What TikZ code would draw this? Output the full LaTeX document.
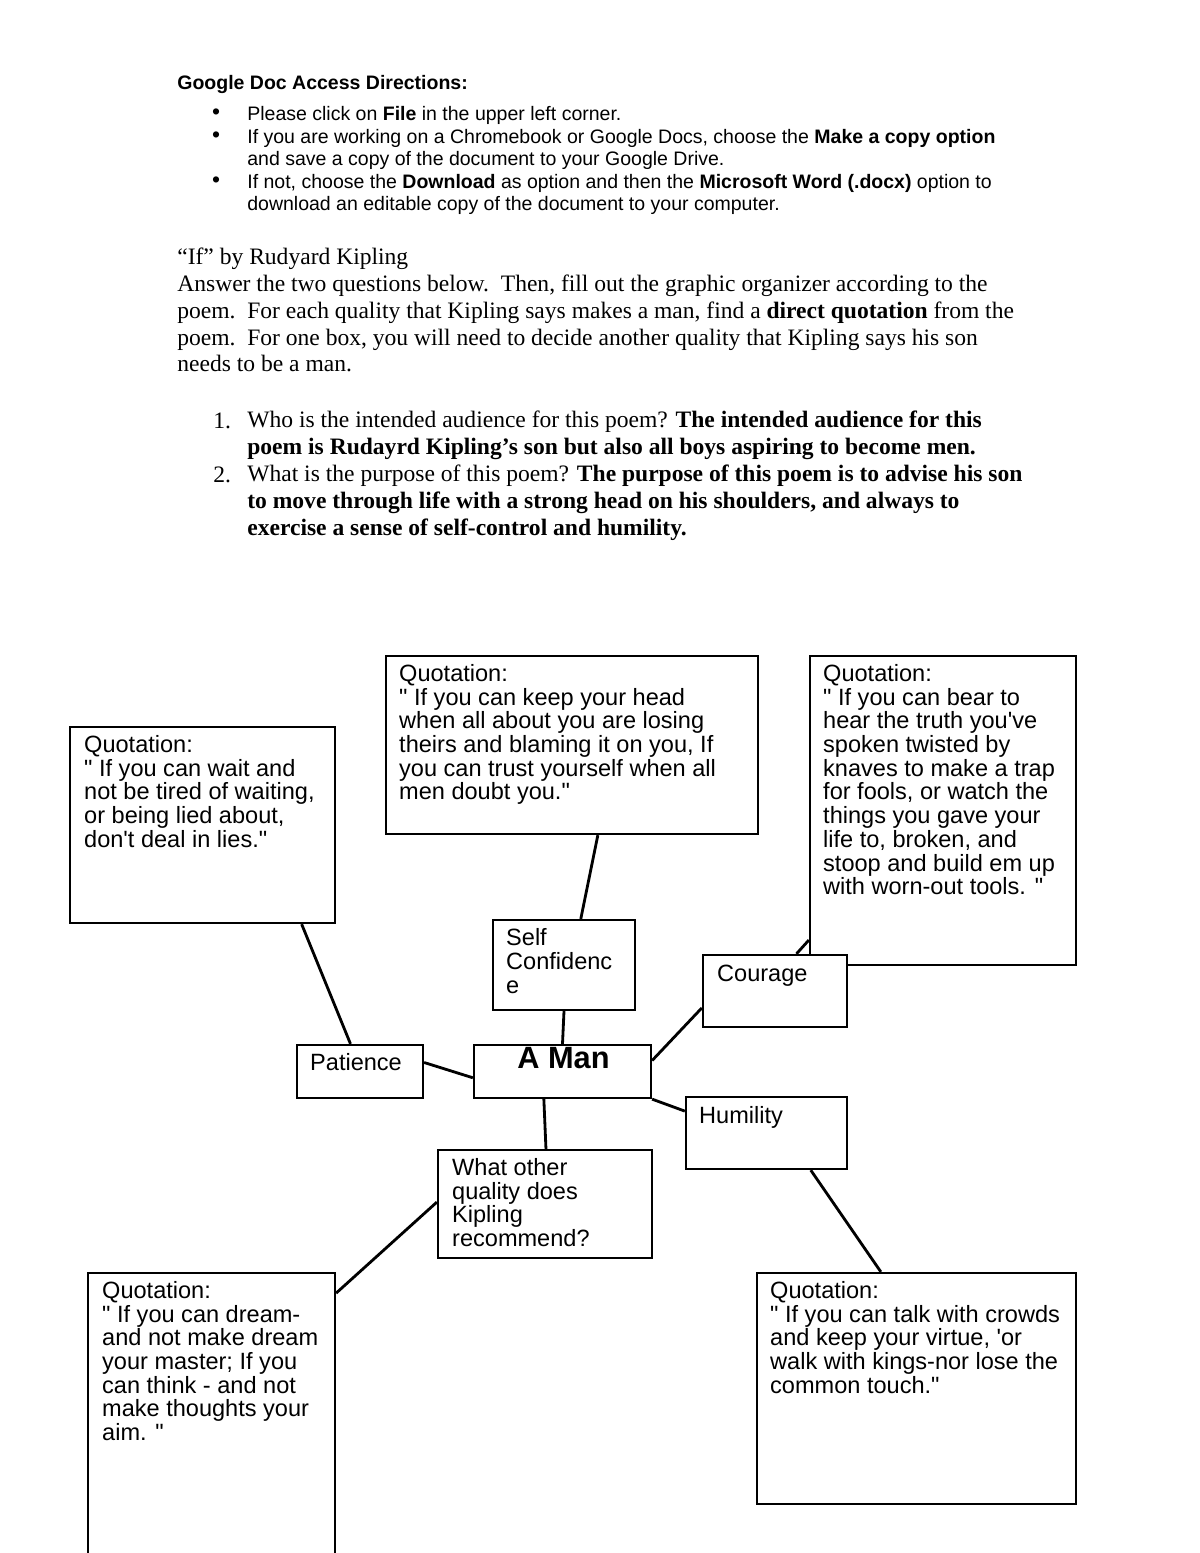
\documentclass[tikz,border=0pt]{standalone}
\usepackage{fontspec}
\setmainfont{Liberation Serif}
\newfontfamily\arialfont{Liberation Sans}
\usetikzlibrary{fit}

\begin{document}
\begin{tikzpicture}[x=0.2mm, y=-0.2mm,
  box/.style={draw, fill=white, line width=1.3pt, inner sep=0pt},
  link/.style={line width=1.6pt},
  boxtext/.style={anchor=north west, inner sep=0pt, align=left,
    font=\arialfont\fontsize{13.4}{13.5}\selectfont},
  sanstext/.style={anchor=north west, inner sep=0pt, align=left,
    font=\arialfont\fontsize{11.1}{12.8}\selectfont},
  dottext/.style={inner sep=0pt, font=\arialfont\fontsize{13}{13}\selectfont},
  serftext/.style={anchor=north west, inner sep=0pt, align=left,
    font=\fontsize{13.4}{15.2}\selectfont}]
  \path[use as bounding box, fill=white] (0,0) rectangle (1200,1553);

  % directions
  \node[sanstext] (head) at (177,75) {\bfseries Google Doc Access Directions:};
  \node[dottext] (dot1) at (216,114) {\textbullet};
  \node[sanstext] (item1) at (247,106) {Please click on \textbf{File} in the upper left corner.};
  \node[dottext] (dot2) at (216,137) {\textbullet};
  \node[sanstext] (item2) at (247,129) {If you are working on a Chromebook or Google Docs, choose the \textbf{Make a copy option}\\
    and save a copy of the document to your Google Drive.};
  \node[dottext] (dot3) at (216,182) {\textbullet};
  \node[sanstext] (item3) at (247,174) {If not, choose the \textbf{Download} as option and then the \textbf{Microsoft Word (.docx)} option to\\
    download an editable copy of the document to your computer.};

  % poem task
  \node[serftext] (task) at (177,248) {“If” by Rudyard Kipling\\
    Answer the two questions below.\ \ Then, fill out the graphic organizer according to the\\
    poem.\ \ For each quality that Kipling says makes a man, find a \textbf{direct quotation} from the\\
    poem.\ \ For one box, you will need to decide another quality that Kipling says his son\\
    needs to be a man.};
  \node[serftext] (num1) at (213,413) {1.};
  \node[serftext] (ques1) at (247,411) {Who is the intended audience for this poem? \textbf{The intended audience for this}\\
    \textbf{poem is Rudayrd Kipling’s son but also all boys aspiring to become men.}};
  \node[serftext] (num2) at (213,467) {2.};
  \node[serftext] (ques2) at (247,465) {What is the purpose of this poem? \textbf{The purpose of this poem is to advise his son}\\
    \textbf{to move through life with a strong head on his shoulders, and always to}\\
    \textbf{exercise a sense of self-control and humility.}};

  % quotation boxes
  \node[box, fit={(70,727) (335,923)}] (qpat) {};
  \node[boxtext] (qpattext) at ([shift={(15,9)}]qpat.north west) {Quotation:\\
    " If you can wait and\\ not be tired of waiting,\\ or being lied about,\\ don't deal in lies."};
  \node[box, fit={(386,656) (758,834)}] (qself) {};
  \node[boxtext] (qselftext) at ([shift={(14,9)}]qself.north west) {Quotation:\\
    " If you can keep your head\\ when all about you are losing\\ theirs and blaming it on you, If\\
    you can trust yourself when all\\ men doubt you."};
  \node[box, fit={(810,656) (1076,965)}] (qcour) {};
  \node[boxtext] (qcourtext) at ([shift={(14,9)}]qcour.north west) {Quotation:\\
    " If you can bear to\\ hear the truth you've\\ spoken twisted by\\ knaves to make a trap\\
    for fools, or watch the\\ things you gave your\\ life to, broken, and\\ stoop and build em up\\
    with worn-out tools. "};
  \node[box, fit={(88,1273) (335,1600)}] (qwhat) {};
  \node[boxtext] (qwhattext) at ([shift={(15,9)}]qwhat.north west) {Quotation:\\
    " If you can dream-\\ and not make dream\\ your master; If you\\ can think - and not\\
    make thoughts your\\ aim. "};
  \node[box, fit={(757,1273) (1076,1504)}] (qhum) {};
  \node[boxtext] (qhumtext) at ([shift={(14,9)}]qhum.north west) {Quotation:\\
    " If you can talk with crowds\\ and keep your virtue, 'or\\ walk with kings-nor lose the\\
    common touch."};

  % qualities
  \node[box, fit={(493,920) (635,1010)}] (self) {};
  \node[boxtext, font=\arialfont\fontsize{13.4}{13.6}\selectfont] (selftext)
    at ([shift={(14,9)}]self.north west) {Self\\ Confidenc\\ e};
  \node[box, fit={(703,955) (847,1027)}] (cour) {};
  \node[boxtext] (courtext) at ([shift={(15,11)}]cour.north west) {Courage};
  \node[box, fit={(297,1045) (423,1098)}] (pat) {};
  \node[boxtext] (pattext) at ([shift={(14,9)}]pat.north west) {Patience};
  \node[box, fit={(474,1045) (651,1098)}] (man) {};
  \node[anchor=north, inner sep=0pt, font=\arialfont\bfseries\fontsize{17.5}{19}\selectfont]
    (mantext) at ([shift={(1,3)}]man.north) {A Man};
  \node[box, fit={(686,1097) (847,1169)}] (hum) {};
  \node[boxtext] (humtext) at ([shift={(14,10)}]hum.north west) {Humility};
  \node[box, fit={(438,1150) (652,1258)}] (what) {};
  \node[boxtext] (whattext) at ([shift={(15,9)}]what.north west) {What other\\ quality does\\ Kipling\\ recommend?};

  % connectors
  \draw[link] (pat.109) -- (qpat.315);
  \draw[link] (pat.8.6) -- (man.184.2);
  \draw[link] (self.south) -- (man.north);
  \draw[link] (self.70.4) -- (qself.286.9);
  \draw[link] (cour.193.4) -- (man.7.4);
  \draw[link] (cour.60.3) -- (qcour.224.2);
  \draw[link] (man.south east) -- (hum.165.4);
  \draw[link] (man.236.6) -- (what.89);
  \draw[link] (what.179) -- (qwhat.49.7);
  \draw[link] (hum.320.4) -- (qhum.107.5);
\end{tikzpicture}
\end{document}
